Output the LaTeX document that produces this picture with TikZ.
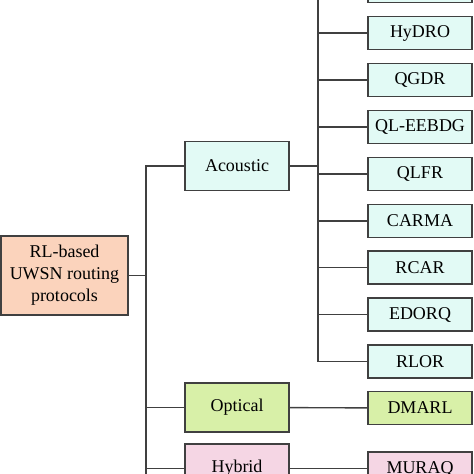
\documentclass[tikz,border=0pt]{standalone}
\usepackage{fontspec}
\setmainfont{Liberation Serif}
\usepackage{tikz}
\usetikzlibrary{positioning}
\usepackage{xcolor}
\definecolor{rootcol}{HTML}{FBD3BC}
\definecolor{acocol}{HTML}{E2FAF5}
\definecolor{optcol}{HTML}{D8F0A8}
\definecolor{hybcol}{HTML}{F5D6E4}
\definecolor{linecol}{HTML}{404040}
\tikzset{
  box/.style={draw=linecol, line width=1.4pt, inner sep=2pt, align=center},
  leafbox/.style={box, minimum width=104pt, minimum height=33pt},
  catbox/.style={box, minimum width=104pt, minimum height=49pt},
}

\begin{document}
\begin{tikzpicture}[x=1pt,y=-1pt,font=\fontsize{18}{22}\selectfont]
\useasboundingbox (0,0) rectangle (474,474);
\fill [white](0,0) rectangle (474,474);
% root
\node [box,fill=rootcol,minimum width=127pt,minimum height=79pt] (root) at (64.5,275.5) {RL-based\\UWSN routing\\protocols};
% categories
\node [catbox,fill=acocol] (acoustic) at (237,166) {Acoustic};
\node [catbox,fill=optcol] (optical) at (237,407.5) {Optical};
\node [catbox,fill=hybcol] (hybrid) at (237,468.5) {Hybrid};
% acoustic protocols
\node [leafbox,fill=acocol] (topleaf) at (420,-14) {};
\node [leafbox,fill=acocol] (hydro) at (420,33) {HyDRO};
\node [leafbox,fill=acocol] (qgdr) at (420,80) {QGDR};
\node [leafbox,fill=acocol] (qleebdg) at (420,127) {QL-EEBDG};
\node [leafbox,fill=acocol] (qlfr) at (420,174) {QLFR};
\node [leafbox,fill=acocol] (carma) at (420,221) {CARMA};
\node [leafbox,fill=acocol] (rcar) at (420,267.5) {RCAR};
\node [leafbox,fill=acocol] (edorq) at (420,314.5) {EDORQ};
\node [leafbox,fill=acocol] (rlor) at (420,361.5) {RLOR};
% optical and hybrid protocols
\node [leafbox,fill=optcol] (dmarl) at (420,408) {DMARL};
\node [leafbox,fill=hybcol] (muraq) at (420,468.5) {MURAQ};
% connectors
\begin{scope}[draw=linecol,line width=1.4pt]
\coordinate (rbot) at (146,490);
\coordinate (atop) at (318,-40);
\draw (acoustic.west) -| (rbot);
\draw (root.east) -- (root.east -| rbot);
\draw (optical.west) -- (optical.west -| rbot);
\draw (hybrid.west) -- (hybrid.west -| rbot);
\draw (atop) |- (rlor.west);
\draw (acoustic.east) -- (acoustic.east -| atop);
\draw (topleaf.west) -- (topleaf.west -| atop);
\draw (hydro.west) -- (hydro.west -| atop);
\draw (qgdr.west) -- (qgdr.west -| atop);
\draw (qleebdg.west) -- (qleebdg.west -| atop);
\draw (qlfr.west) -- (qlfr.west -| atop);
\draw (carma.west) -- (carma.west -| atop);
\draw (rcar.west) -- (rcar.west -| atop);
\draw (edorq.west) -- (edorq.west -| atop);
\draw (optical) -- (dmarl);
\draw (hybrid) -- (muraq);
\end{scope}
\end{tikzpicture}
\end{document}
